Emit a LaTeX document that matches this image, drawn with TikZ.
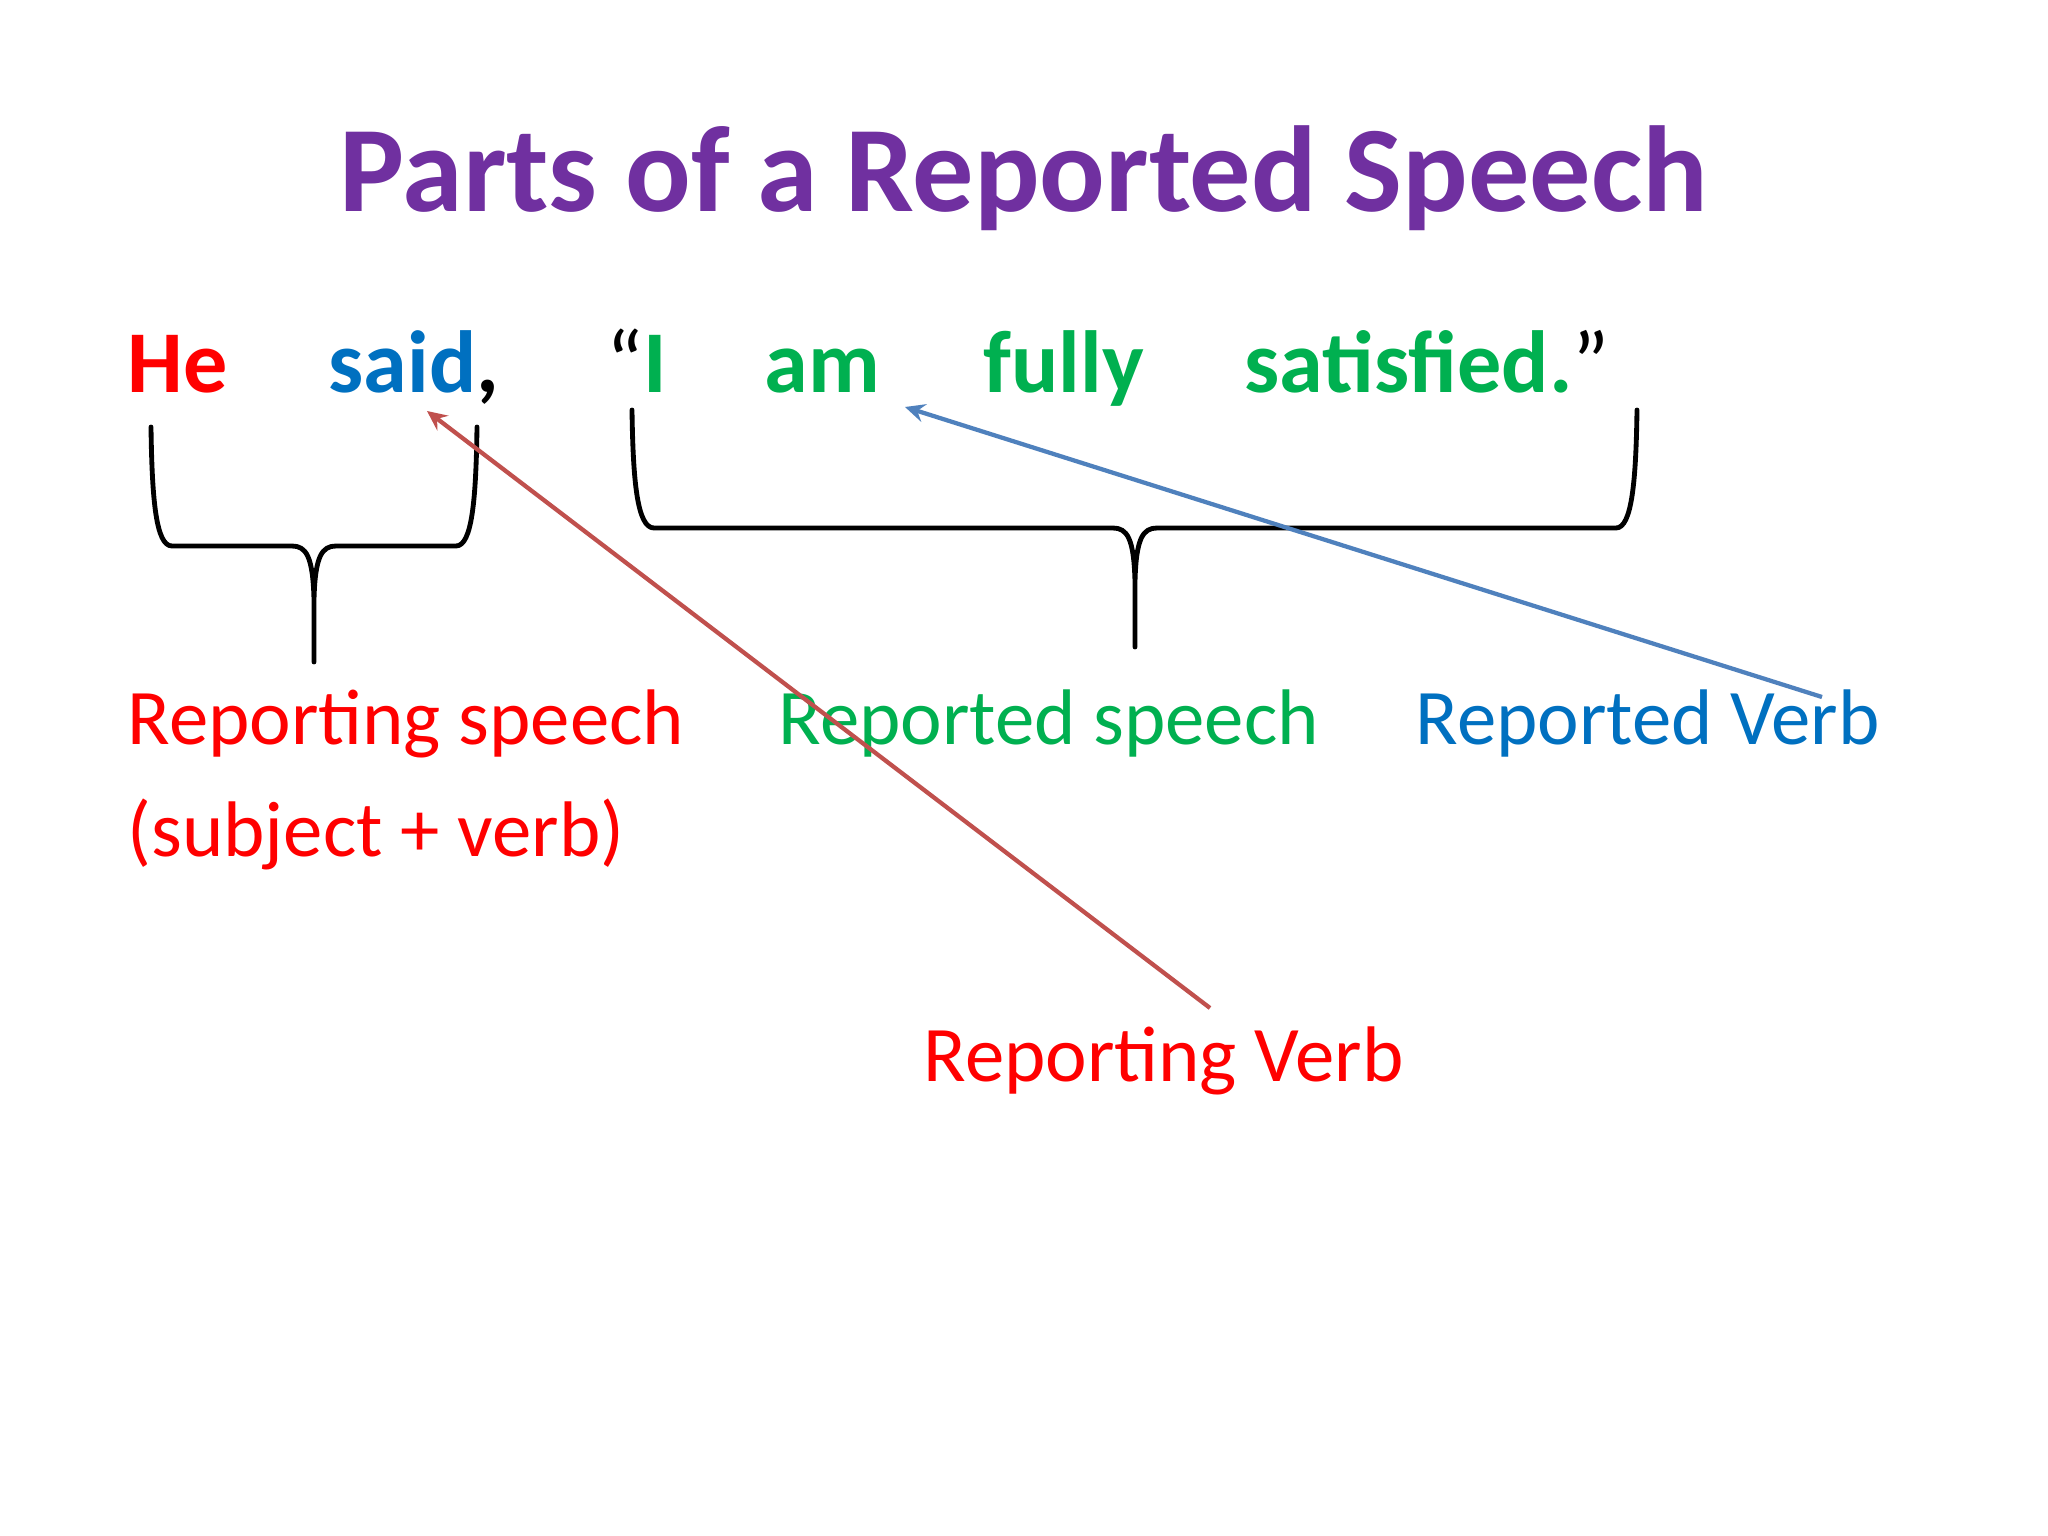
\documentclass[tikz,border=0pt]{standalone}
\usepackage{fontspec}
\setmainfont{Carlito}
\usetikzlibrary{arrows.meta}
\definecolor{titreviolet}{HTML}{7030A0}
\definecolor{rouge}{HTML}{FF0000}
\definecolor{bleu}{HTML}{0070C0}
\definecolor{vert}{HTML}{00B050}
\definecolor{flecherouge}{HTML}{C0504D}
\definecolor{flechebleue}{HTML}{4F81BD}

\begin{document}
\begin{tikzpicture}[x=0.3515625bp, y=-0.3515625bp]
\tikzset{mot/.style={anchor=base west, inner sep=0pt, font=\fontsize{31bp}{37bp}\selectfont\bfseries},
etiq/.style={anchor=base west, inner sep=0pt, font=\fontsize{27.7bp}{34bp}\selectfont},
accolade/.style={draw, line width=1.7bp, line join=round, line cap=round},
fleche/.style={-{Stealth[length=7bp, width=6.5bp, inset=2.5bp]}, line width=1.5bp}}
\fill[white] (0,0) rectangle (2048,1536);
\useasboundingbox (0,0) rectangle (2048,1536);
\node[anchor=base, inner sep=0pt, text=titreviolet, font=\fontsize{43bp}{50bp}\selectfont\bfseries] (titre) at (1024,212) {Parts of a Reported Speech};
\node[mot, text=rouge] (He) at (127,392) {He};
\node[mot] (said) at (328,392) {\textcolor{bleu}{said},};
\node[mot] (I) at (606,392) {{\mdseries “}\textcolor{vert}{I}};
\node[mot, text=vert] (am) at (764,392) {am};
\node[mot, text=vert] (fully) at (983,392) {fully};
\node[mot] (satisf) at (1244,392) {\textcolor{vert}{satisfied.}{\mdseries ”}};
\node[etiq, text=rouge] (Lrs) at (127,744) {Reporting speech};
\node[etiq, text=rouge] (Lsv) at (127,856) {(subject + verb)};
\node[etiq, text=vert] (Lrd) at (778,744) {Reported speech};
\node[etiq, text=bleu] (Lrdv) at (1415,744) {Reported Verb};
\node[etiq, text=rouge] (Lrgv) at (923,1081) {Reporting Verb};
\draw[accolade] (151,427) .. controls (152,500) and (156,546) .. (172,546) -- (292,546)
  .. controls (306,546) and (313,556) .. (314,600) -- (314,662) -- (314,600)
  .. controls (315,556) and (322,546) .. (336,546) -- (456,546)
  .. controls (472,546) and (476,500) .. (477,427);
\draw[accolade] (632,410) .. controls (633,480) and (637,528) .. (654,528) -- (1113,528)
  .. controls (1127,528) and (1134,538) .. (1135,582) -- (1135,647) -- (1135,582)
  .. controls (1136,538) and (1143,528) .. (1157,528) -- (1616,528)
  .. controls (1632,528) and (1636,480) .. (1637,410);
\coordinate (rgdebut) at (1210,1008);
\coordinate (rgfin) at (427,411);
\coordinate (rddebut) at (1822,697);
\coordinate (rdfin) at (905,407);
\draw[fleche, flecherouge] (rgdebut) -- (rgfin);
\draw[fleche, flechebleue] (rddebut) -- (rdfin);
\end{tikzpicture}
\end{document}
